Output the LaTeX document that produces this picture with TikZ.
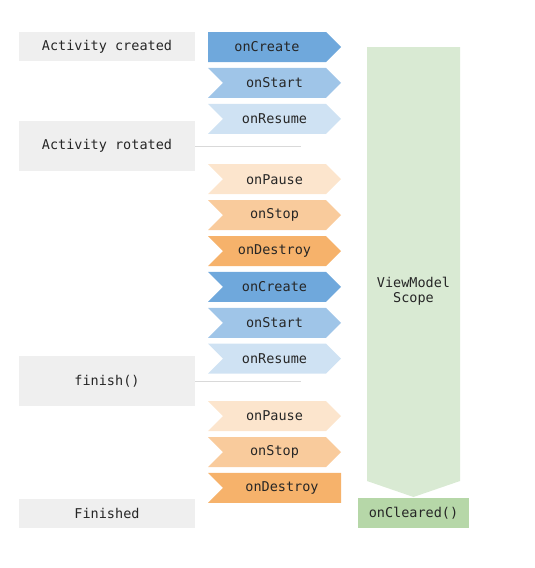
\documentclass[tikz,border=0pt]{standalone}
\usepackage{fontspec}
\setmonofont{DejaVu Sans Mono}
\usepackage{tikz}
\usetikzlibrary{positioning,shapes.symbols}
\usepackage{xcolor}

\definecolor{boxgrey}{HTML}{EFEFEF}
\definecolor{linegrey}{HTML}{D9D9D9}
\definecolor{blueA}{HTML}{6FA8DC}
\definecolor{blueB}{HTML}{9FC5E8}
\definecolor{blueC}{HTML}{CFE2F3}
\definecolor{orangeA}{HTML}{FCE5CD}
\definecolor{orangeB}{HTML}{F9CB9C}
\definecolor{orangeC}{HTML}{F6B26B}
\definecolor{scopegreen}{HTML}{D9EAD3}
\definecolor{cleargreen}{HTML}{B6D7A8}
\definecolor{textgrey}{HTML}{262626}

\begin{document}
\begin{tikzpicture}[
    x = 1pt, y = -1pt,
    font = \ttfamily\fontsize{13.5}{15.5}\selectfont,
    text = textgrey,
    node distance = 5.5pt,
    event/.style={fill=boxgrey, minimum width=176pt, inner sep=0pt},
    short/.style={minimum height=29pt},
    tall/.style={minimum height=50pt},
    hook/.style={signal, signal to=east, signal from=west, signal pointer angle=90,
        minimum width=133pt, minimum height=30pt, inner sep=0pt},
    link/.style={draw=linegrey, line width=0.8pt}
]
\useasboundingbox (0,0) rectangle (535,568);

% Activity events
\node[event, short] (created) at (107,46.5) {Activity created};
\node[event, tall] (rotated) at (107,146) {Activity rotated};
\node[event, tall] (finish) at (107,381) {finish()};
\node[event, short] (finished) at (107,513.5) {Finished};

% First lifecycle
\node[hook, signal from=nowhere, fill=blueA, xshift=-7.5pt] (create1) at (274.5,47) {onCreate};
\node[hook, fill=blueB, xshift=7.5pt] (start1) [below=of create1] {onStart};
\node[hook, fill=blueC] (resume1) [below=of start1] {onResume};

% Rotation
\node[hook, fill=orangeA] (pause1) [below=30pt of resume1] {onPause};
\node[hook, fill=orangeB] (stop1) [below=of pause1] {onStop};
\node[hook, fill=orangeC] (destroy1) [below=of stop1] {onDestroy};
\node[hook, fill=blueA] (create2) [below=of destroy1] {onCreate};
\node[hook, fill=blueB] (start2) [below=of create2] {onStart};
\node[hook, fill=blueC] (resume2) [below=of start2] {onResume};

% Finishing
\node[hook, fill=orangeA] (pause2) [below=27pt of resume2] {onPause};
\node[hook, fill=orangeB] (stop2) [below=of pause2] {onStop};
\node[hook, signal to=nowhere, fill=orangeC, xshift=7.5pt] (destroy2) [below=of stop2] {onDestroy};

% Separators
\coordinate (rotend) at (301,146);
\coordinate (finend) at (301,381);
\draw[link] (rotated.east) -- (rotend);
\draw[link] (finish.east) -- (finend);

% ViewModel scope
\fill[scopegreen] (367,47) -- (460,47) -- (460,481) -- (413.5,497) -- (367,481) -- cycle;
\node[align=center] (scope) at (413.5,291) {ViewModel\\Scope};
\node[fill=cleargreen, minimum width=111pt, minimum height=30pt, inner sep=0pt]
    (cleared) at (413.5,513) {onCleared()};

\end{tikzpicture}
\end{document}
